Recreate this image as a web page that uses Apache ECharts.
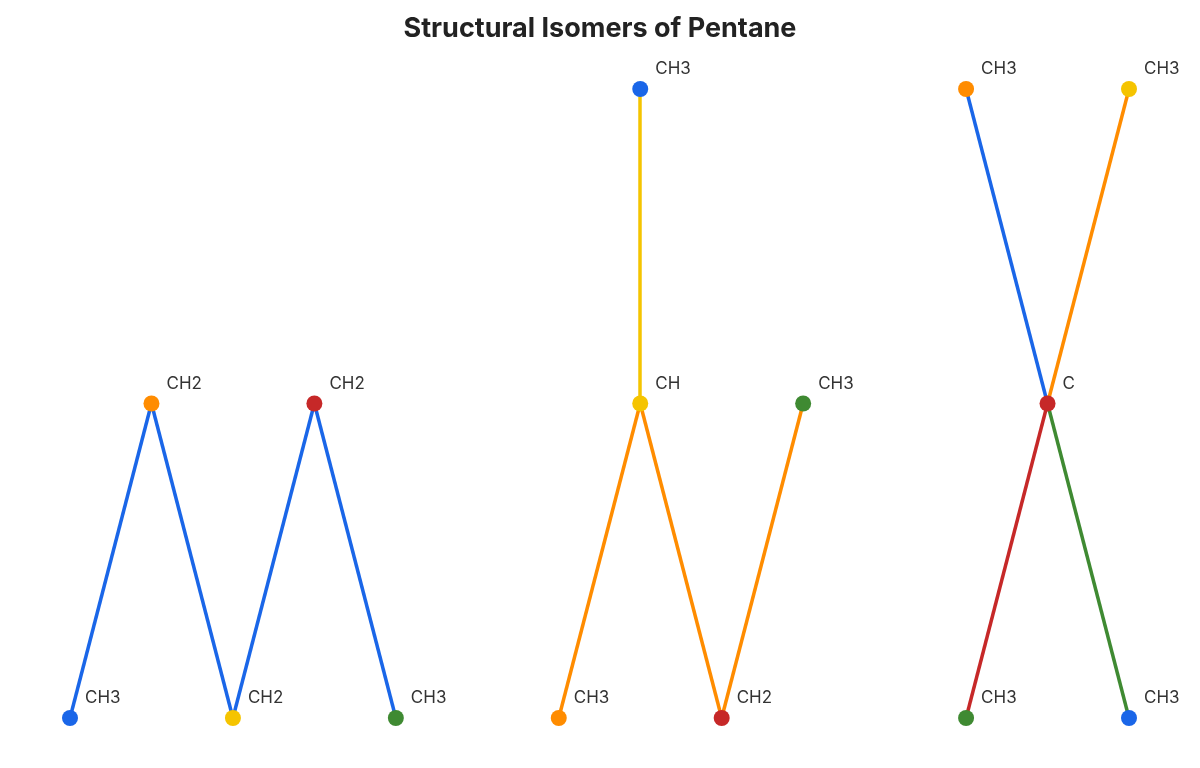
<!DOCTYPE html>
<html><head><meta charset="utf-8">
<script src="https://cdn.jsdelivr.net/npm/echarts@6/dist/echarts.min.js"></script>
<style>html,body{margin:0;padding:0;background:#fff}#c{width:1200px;height:768px}</style>
</head><body><div id="c"></div>
<script>
const atomLabels = ['CH3','CH2','CH2','CH2','CH3', 'CH3','CH','CH3','CH2','CH3', 'C','CH3','CH3','CH3','CH3'];
const atomX = [0,1,2,3,4, 7,7,6,8,9, 12,11,13,11,13];
const atomY = [0,1,0,1,0, 2,1,0,0,1, 1,2,2,0,0];
const atomColors = ['#1a66e8','#ff8c00','#f5c400','#c62828','#3f8a32', '#1a66e8','#f5c400','#ff8c00','#c62828','#3f8a32', '#c62828','#ff8c00','#f5c400','#3f8a32','#1a66e8'];
const bondSource = [0,1,2,3, 5,6,6,8, 10,10,10,10];
const bondTarget = [1,2,3,4, 6,7,8,9, 11,12,13,14];
const bondColors = ['#1a66e8','#1a66e8','#1a66e8','#1a66e8', '#f5c400','#ff8c00','#ff8c00','#ff8c00', '#1a66e8','#ff8c00','#c62828','#3f8a32'];

const nodes = atomLabels.map((l,i)=>({name:'a'+i, value:[atomX[i],atomY[i]], label:{formatter:l}, itemStyle:{color:atomColors[i]}}));
const links = bondSource.map((s,i)=>({source:s, target:bondTarget[i], lineStyle:{color:bondColors[i]}}));
const chart = echarts.init(document.getElementById('c'));
chart.setOption({
  backgroundColor:'#fff',
  title:{text:'Structural Isomers of Pentane', left:'center', top:10, textStyle:{fontSize:27, fontWeight:'bold', color:'#222', fontFamily:'Inter'}},
  grid:{left:70, right:71, top:89, bottom:50},
  xAxis:{type:'value', min:0, max:13, show:false},
  yAxis:{type:'value', min:0, max:2, show:false},
  series:[{
    type:'graph', coordinateSystem:'cartesian2d', symbolSize:16,
    data:nodes, links:links,
    lineStyle:{width:3.5, opacity:1},
    label:{show:true, position:'right', offset:[2,-20], fontSize:17, color:'#333', fontFamily:'Inter'},
    emphasis:{disabled:true}
  }]
});
</script></body></html>
